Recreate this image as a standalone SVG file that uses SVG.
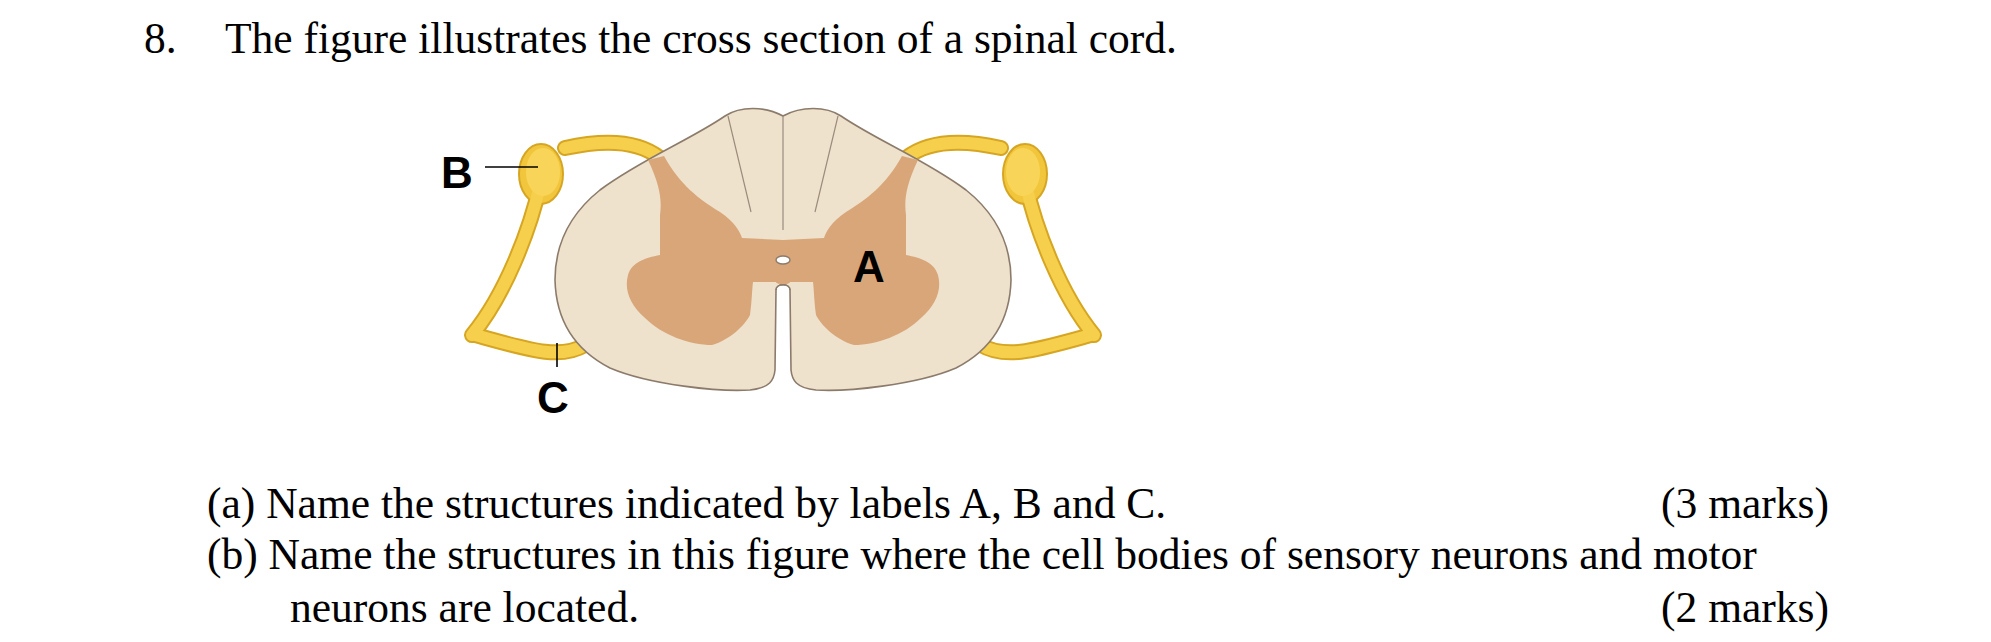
<svg xmlns="http://www.w3.org/2000/svg" width="1991" height="642" viewBox="0 0 1991 642">
<style>
.q{font-family:"Liberation Serif","Times New Roman",serif;font-size:43.5px;fill:#000}
.lb{font-family:"Liberation Sans",Arial,sans-serif;font-weight:bold;font-size:44px;fill:#000}
.no{fill:none;stroke:#d6a623;stroke-width:16;stroke-linecap:round;stroke-linejoin:round}
.ni{fill:none;stroke:#f6d04c;stroke-width:12;stroke-linecap:round;stroke-linejoin:round}
.ld{stroke:#000;stroke-width:1.6}
</style>
<rect width="1991" height="642" fill="#fff"/>
<g id="question">
<text class="q" x="144" y="53">8.</text>
<text class="q" x="225" y="53">The figure illustrates the cross section of a spinal cord.</text>
<text class="q" x="207" y="518">(a) Name the structures indicated by labels A, B and C.</text>
<text class="q" x="1829" y="518" text-anchor="end">(3 marks)</text>
<text class="q" x="207" y="569">(b) Name the structures in this figure where the cell bodies of sensory neurons and motor</text>
<text class="q" x="290" y="622">neurons are located.</text>
<text class="q" x="1829" y="622" text-anchor="end">(2 marks)</text>
</g>
<g id="nerves">
<g id="nerve-left">
<path class="no" d="M660,158 C640,142 610,138 565,148 M540,185 C530,230 505,295 472,335 M585,345 C560,360 530,350 475,335"/>
<ellipse cx="541" cy="174" rx="22" ry="30" fill="#f2c63c" stroke="#d6a623" stroke-width="2"/>
<path class="ni" d="M660,158 C640,142 610,138 565,148 M540,185 C530,230 505,295 472,335 M585,345 C560,360 530,350 475,335"/>
<ellipse cx="543" cy="172" rx="17" ry="24" fill="#f8d558"/>
</g>
<g id="nerve-right" transform="translate(1566,0) scale(-1,1)">
<path class="no" d="M660,158 C640,142 610,138 565,148 M540,185 C530,230 505,295 472,335 M585,345 C560,360 530,350 475,335"/>
<ellipse cx="541" cy="174" rx="22" ry="30" fill="#f2c63c" stroke="#d6a623" stroke-width="2"/>
<path class="ni" d="M660,158 C640,142 610,138 565,148 M540,185 C530,230 505,295 472,335 M585,345 C560,360 530,350 475,335"/>
<ellipse cx="543" cy="172" rx="17" ry="24" fill="#f8d558"/>
</g>
</g>
<g id="cord">
<path d="M783,116 C765,106 740,106 725,116 C690,140 640,160 600,190 C565,218 555,250 555,280 C556,320 575,350 610,368 C650,385 720,392 750,390 C770,388 774,380 775,370 L776,290 C776,283 790,283 790,290 L791,370 C792,380 796,388 816,390 C846,392 916,385 956,368 C991,350 1010,320 1011,280 C1011,250 1001,218 966,190 C926,160 876,140 841,116 C826,106 801,106 783,116 Z" fill="#eee2cd" stroke="#8c7b6b" stroke-width="1.6"/>
<path id="gray" d="M648,160 L664,156 C680,185 700,200 720,212 C735,222 740,232 742,238 L783,240 L824,238 C826,232 831,222 846,212 C866,200 886,185 902,156 L918,160 C906,185 904,200 906,215 L906,255 C921,258 934,262 938,275 C942,290 936,305 921,318 C904,335 876,345 854,345 C836,340 821,325 816,315 C814,300 814,290 813,282 L790,282 C790,285 776,285 776,282 L753,282 C752,290 752,300 750,315 C745,325 730,340 712,345 C690,345 662,335 645,318 C630,305 624,290 628,275 C632,262 645,258 660,255 L660,215 C662,200 660,185 648,160 Z" fill="#d9a679"/>
<path d="M776,290 C776,283 790,283 790,290" fill="none" stroke="#8c7b6b" stroke-width="1.4"/>
<path d="M728,116 L751,212 M838,116 L815,212 M783,116 L783,230" fill="none" stroke="#9c8c7c" stroke-width="1.2"/>
<ellipse cx="783" cy="260" rx="7" ry="4" fill="#fff" stroke="#8c7b6b" stroke-width="1.4"/>
</g>
<g id="labels">
<text class="lb" x="441" y="188">B</text>
<line class="ld" x1="485" y1="167" x2="538" y2="167"/>
<text class="lb" x="853" y="282">A</text>
<line class="ld" x1="557" y1="343" x2="557" y2="367"/>
<text class="lb" x="537" y="413">C</text>
</g>
</svg>
